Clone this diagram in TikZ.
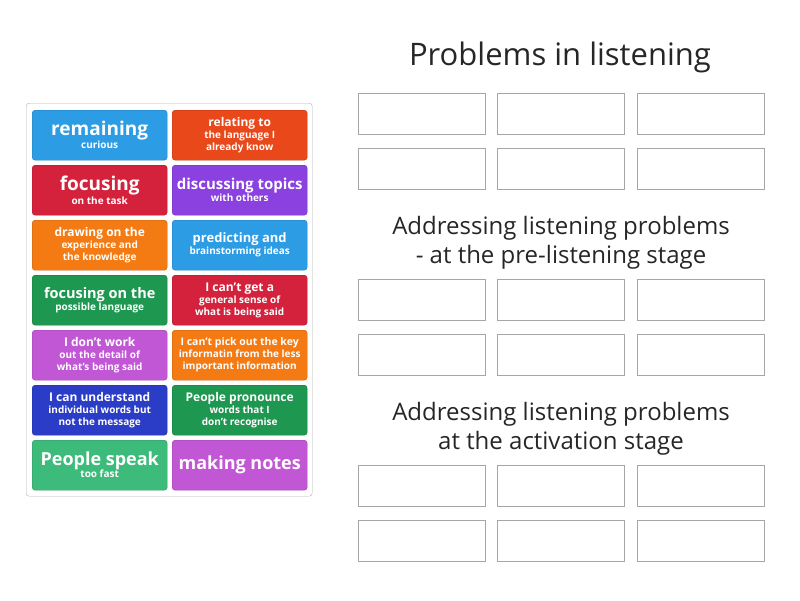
\documentclass[tikz,border=0pt]{standalone}
\usepackage{fontspec}
\setmainfont{Open Sans}
\begin{document}
\begin{tikzpicture}[x=1pt,y=-1pt,
  tile/.style={draw=#1!80!black,fill=#1,rounded corners=3pt,minimum width=135pt,minimum height=50pt,text=white,align=center,font=\bfseries,inner sep=1pt,anchor=north west},
  slot/.style={draw=black!35,fill=white,minimum width=127pt,minimum height=41pt,anchor=north west,line width=0.8pt},
  ttl/.style={font=\fontsize{24}{29}\selectfont,align=center,text=black!85}]
\useasboundingbox (0,0) rectangle (800,600);
\definecolor{cA}{HTML}{2C9CE4}\definecolor{cB}{HTML}{E9481A}\definecolor{cC}{HTML}{D4223C}
\definecolor{cD}{HTML}{8B40E0}\definecolor{cE}{HTML}{F47B13}\definecolor{cF}{HTML}{1E9750}
\definecolor{cG}{HTML}{C257D6}\definecolor{cH}{HTML}{2B3DC7}\definecolor{cI}{HTML}{3DBB7B}
\node[draw=black!30,rounded corners=3pt,minimum width=286pt,minimum height=393pt,anchor=north west] (panel) at (26,103) {};
\def\fs#1{\fontsize{#1}{#1*1.05}\selectfont}
\node[tile=cA] (t1) at (32,110) {\fontsize{19}{20}\selectfont remaining\\curious};
\node[tile=cB] (t2) at (172,110) {\fontsize{12}{13.5}\selectfont relating to\\the language I\\already know};
\node[tile=cC] (t3) at (32,165) {\fontsize{19}{20}\selectfont focusing\\on the task};
\node[tile=cD] (t4) at (172,165) {\fontsize{15}{17}\selectfont discussing topics\\with others};
\node[tile=cE] (t5) at (32,220) {\fontsize{12}{13.5}\selectfont drawing on the\\experience and\\the knowledge};
\node[tile=cA] (t6) at (172,220) {\fontsize{13}{14.5}\selectfont predicting and\\brainstorming ideas};
\node[tile=cF] (t7) at (32,275) {\fontsize{14.5}{16}\selectfont focusing on the\\possible language};
\node[tile=cC] (t8) at (172,275) {\fontsize{12}{13.5}\selectfont I can't get a\\general sense of\\what is being said};
\node[tile=cG] (t9) at (32,330) {\fontsize{12}{13.5}\selectfont I don't work\\out the detail of\\what's being said};
\node[tile=cE] (t10) at (172,330) {\fontsize{10.5}{12}\selectfont I can't pick out the key\\informatin from the less\\important information};
\node[tile=cH] (t11) at (32,385) {\fontsize{12}{13.5}\selectfont I can understand\\individual words but\\not the message};
\node[tile=cF] (t12) at (172,385) {\fontsize{12}{13.5}\selectfont People pronounce\\words that I\\don't recognise};
\node[tile=cI] (t13) at (32,440) {\fontsize{18}{20}\selectfont People speak\\too fast};
\node[tile=cG] (t14) at (172,440) {\fontsize{18}{20}\selectfont making notes};
\node[ttl,font=\fontsize{31}{36}\selectfont] (h1) at (560,57) {Problems in listening};
\node[ttl] (h2) at (561,243) {Addressing listening problems\\- at the pre-listening stage};
\node[ttl] (h3) at (561,429) {Addressing listening problems\\at the activation stage};
\foreach \y [count=\r] in {93,148,279,334,465,520}
  \foreach \x [count=\c] in {358,497,637}
    \node[slot] (s\r\c) at (\x,\y) {};
\end{tikzpicture}
\end{document}
